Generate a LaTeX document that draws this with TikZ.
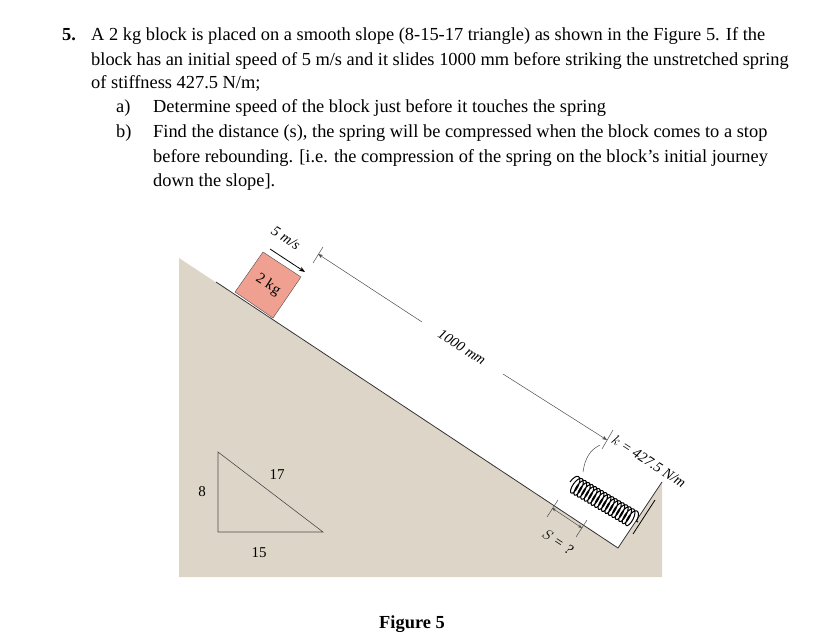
\documentclass[tikz,border=0pt]{standalone}
\usepackage{fontspec}
\setmainfont{Liberation Serif}
\usetikzlibrary{arrows.meta,decorations.pathmorphing}
\begin{document}
\begin{tikzpicture}[x=1pt,y=-1pt,
  txt/.style={anchor=base west,inner sep=0,font=\fontsize{18.4}{22}\selectfont},
  lbl/.style={inner sep=0,font=\fontsize{14.5}{16}\selectfont\itshape},
  num/.style={inner sep=0,font=\fontsize{15}{17}\selectfont},
  dim/.style={draw=black!70,line width=0.5pt}]
\useasboundingbox (0,0) rectangle (832,636);
% text
\node[txt] (n5) at (62,41) {\textbf{5.}};
\node[txt] (l1) at (91,41) {A 2 kg block is placed on a smooth slope (8-15-17 triangle) as shown in the Figure 5. If the};
\node[txt] (l2) at (91,66) {block has an initial speed of 5 m/s and it slides 1000 mm before striking the unstretched spring};
\node[txt] (l3) at (91,89) {of stiffness 427.5 N/m;};
\node[txt] (a) at (116,113) {a)};
\node[txt] (la) at (153,113) {Determine speed of the block just before it touches the spring};
\node[txt] (b) at (116,138) {b)};
\node[txt] (lb1) at (153,138) {Find the distance (s), the spring will be compressed when the block comes to a stop};
\node[txt] (lb2) at (153,163) {before rebounding. [i.e. the compression of the spring on the block’s initial journey};
\node[txt] (lb3) at (153,187) {down the slope].};
% ground
\fill[fill={rgb,255:red,221;green,214;blue,200}] (179,258) -- (618,548) -- (662,482) -- (662,577) -- (179,577) -- cycle;
\draw[line width=0.8pt,black!80] (216,282) -- (618,548) -- (662,482);
% block
\draw[fill={rgb,255:red,240;green,160;blue,145},draw=black!70] (235,292) -- (273,318) -- (301,277) -- (263,252) -- cycle;
\node[num,rotate=-33] (m) at (268,285) {2 kg};
% velocity
\draw[-{Stealth[length=6pt]},line width=0.8pt] (270,249) -- (305,272);
\node[lbl,rotate=-33] (v) at (286,238) {5 m/s};
% 1000 mm dimension
\draw[dim] (313,263) -- (323,247);
\draw[dim] (602,449) -- (613,430);
\draw[dim,{Stealth[length=5pt]}-] (318,254) -- (422,322);
\draw[dim,-{Stealth[length=5pt]}] (503,374) -- (607,440);
\node[lbl,rotate=-33] (d) at (462,347) {1000 mm};
% spring
\draw[line width=0.8pt] (633,534) -- (655,500);
\draw[line width=1pt,decorate,decoration={coil,segment length=4pt,amplitude=9pt,aspect=0.4}] (570,482) -- (638,522);
\draw[dim] (583,472) .. controls (585,458) and (590,450) .. (600,445);
\node[lbl,rotate=-33,anchor=west] (k) at (613,438) {$k$ = 427.5 N/m};
% S dimension
\draw[dim] (547,517) -- (558,500);
\draw[dim] (576,537) -- (587,520);
\draw[dim,{Stealth[length=4pt]}-{Stealth[length=4pt]}] (552,508) -- (582,528);
\node[lbl,rotate=-33] (s) at (558,542) {$S$ = ?};
% small triangle
\draw[black!70,line width=0.6pt] (218,452) -- (218,532) -- (323,532) -- cycle;
\node[num] (t8) at (202,492) {8};
\node[num] (t17) at (277,475) {17};
\node[num] (t15) at (259,553) {15};
% caption
\node[inner sep=0,font=\fontsize{18.4}{22}\selectfont\bfseries] (cap) at (412,624) {Figure 5};
\end{tikzpicture}
\end{document}
